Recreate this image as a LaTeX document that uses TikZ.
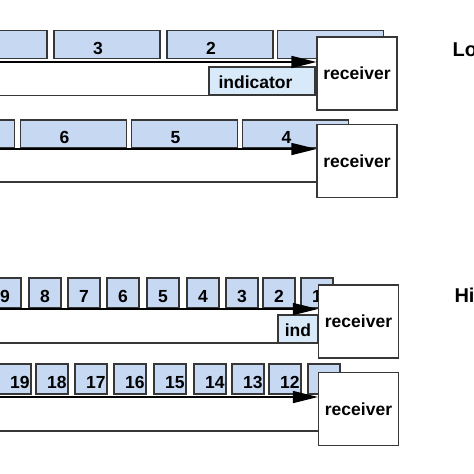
\documentclass[tikz,border=0pt]{standalone}
\usepackage{fontspec}
\setmainfont{Liberation Sans}
\usetikzlibrary{arrows.meta,positioning,calc}
\definecolor{pktblue}{RGB}{198,216,242}
\definecolor{indblue}{RGB}{216,233,249}
\definecolor{edgegray}{RGB}{55,55,55}

\begin{document}
\begin{tikzpicture}[x=1pt,y=-1pt,
					every node/.style={font=\fontsize{17.5}{20}\selectfont\bfseries},
					pkt/.style={draw=edgegray, line width=1.2pt, fill=pktblue, inner sep=0pt, text height=19pt, text depth=0pt},
					longpkt/.style={pkt, minimum width=106pt, minimum height=28pt},
					shortpkt/.style={pkt, minimum width=32pt, minimum height=30pt},
					rightpkt/.style={pkt, text width=29pt, align=right, inner xsep=1.5pt, minimum height=30pt},
					indbox/.style={pkt, fill=indblue, minimum height=28pt, text height=15pt},
					receiver/.style={draw=edgegray, line width=1.2pt, fill=white, minimum width=80pt, minimum height=73pt},
					flow/.style={draw=black, line width=1.5pt, -{Triangle[length=25pt, width=12pt]}},
					wire/.style={draw=edgegray, line width=1.3pt}]
	\useasboundingbox (0,0) rectangle (474,474);
	% low rate, with indicator
	\foreach \i/\x/\t in {1/-6/, 2/107/3, 3/220/2, 4/330.5/}
		\node[longpkt] (la\i) at (\x,44.5) {\t\hspace*{18pt}};
	\node[indbox, minimum width=106pt] (ind1) at (262,81) {indicator\hspace*{13pt}};
	% low rate, no indicator
	\foreach \i/\x/\t in {1/-38.5/, 2/73.5/6, 3/184.5/5, 4/295.5/4}
		\node[longpkt] (lb\i) at (\x,134) {\t\hspace*{18pt}};
	% high rate, with indicator
	\foreach \i/\x/\t in {1/5/9, 2/45/8, 3/84/7, 4/123/6, 5/163/5, 6/203/4, 7/242/3, 8/279/2, 9/317/1}
		\node[shortpkt] (ha\i) at (\x,293) {\t};
	\node[indbox, minimum width=40pt] (ind2) at (298,329) {ind};
	% high rate, no indicator
	\foreach \i/\x/\t in {1/15/19, 2/52/18, 3/91/17, 4/130/16, 5/170/15, 6/210/14, 7/248/13, 8/285/12, 9/324/}
		\node[rightpkt] (hb\i) at (\x,379) {\t};

	\coordinate (a1) at (-5,62);
	\coordinate (a2) at (-5,149);
	\coordinate (a3) at (-5,309);
	\coordinate (a4) at (-5,397);
	\coordinate (b1) at (-5,95.5);
	\coordinate (b2) at (-5,182);
	\coordinate (b3) at (-5,343);
	\coordinate (b4) at (-5,431);

	\node[receiver] (rx1) at (357,73.5) {receiver};
	\node[receiver] (rx2) at (357,161) {receiver};
	\node[receiver] (rx3) at (358.5,321.5) {receiver};
	\node[receiver] (rx4) at (358.5,409) {receiver};

	\foreach \k in {1,2,3,4} {
		\draw[flow] (a\k) -- (a\k -| rx\k.west);
		\draw[wire] (b\k) -- (b\k -| rx\k.west);
	}
	\node[anchor=base west, font=\fontsize{20}{24}\selectfont\bfseries] (lo) at (449,56) {Lo};
	\node[anchor=base west, font=\fontsize{20}{24}\selectfont\bfseries] (hi) at (451,302) {Hi};
\end{tikzpicture}
\end{document}
